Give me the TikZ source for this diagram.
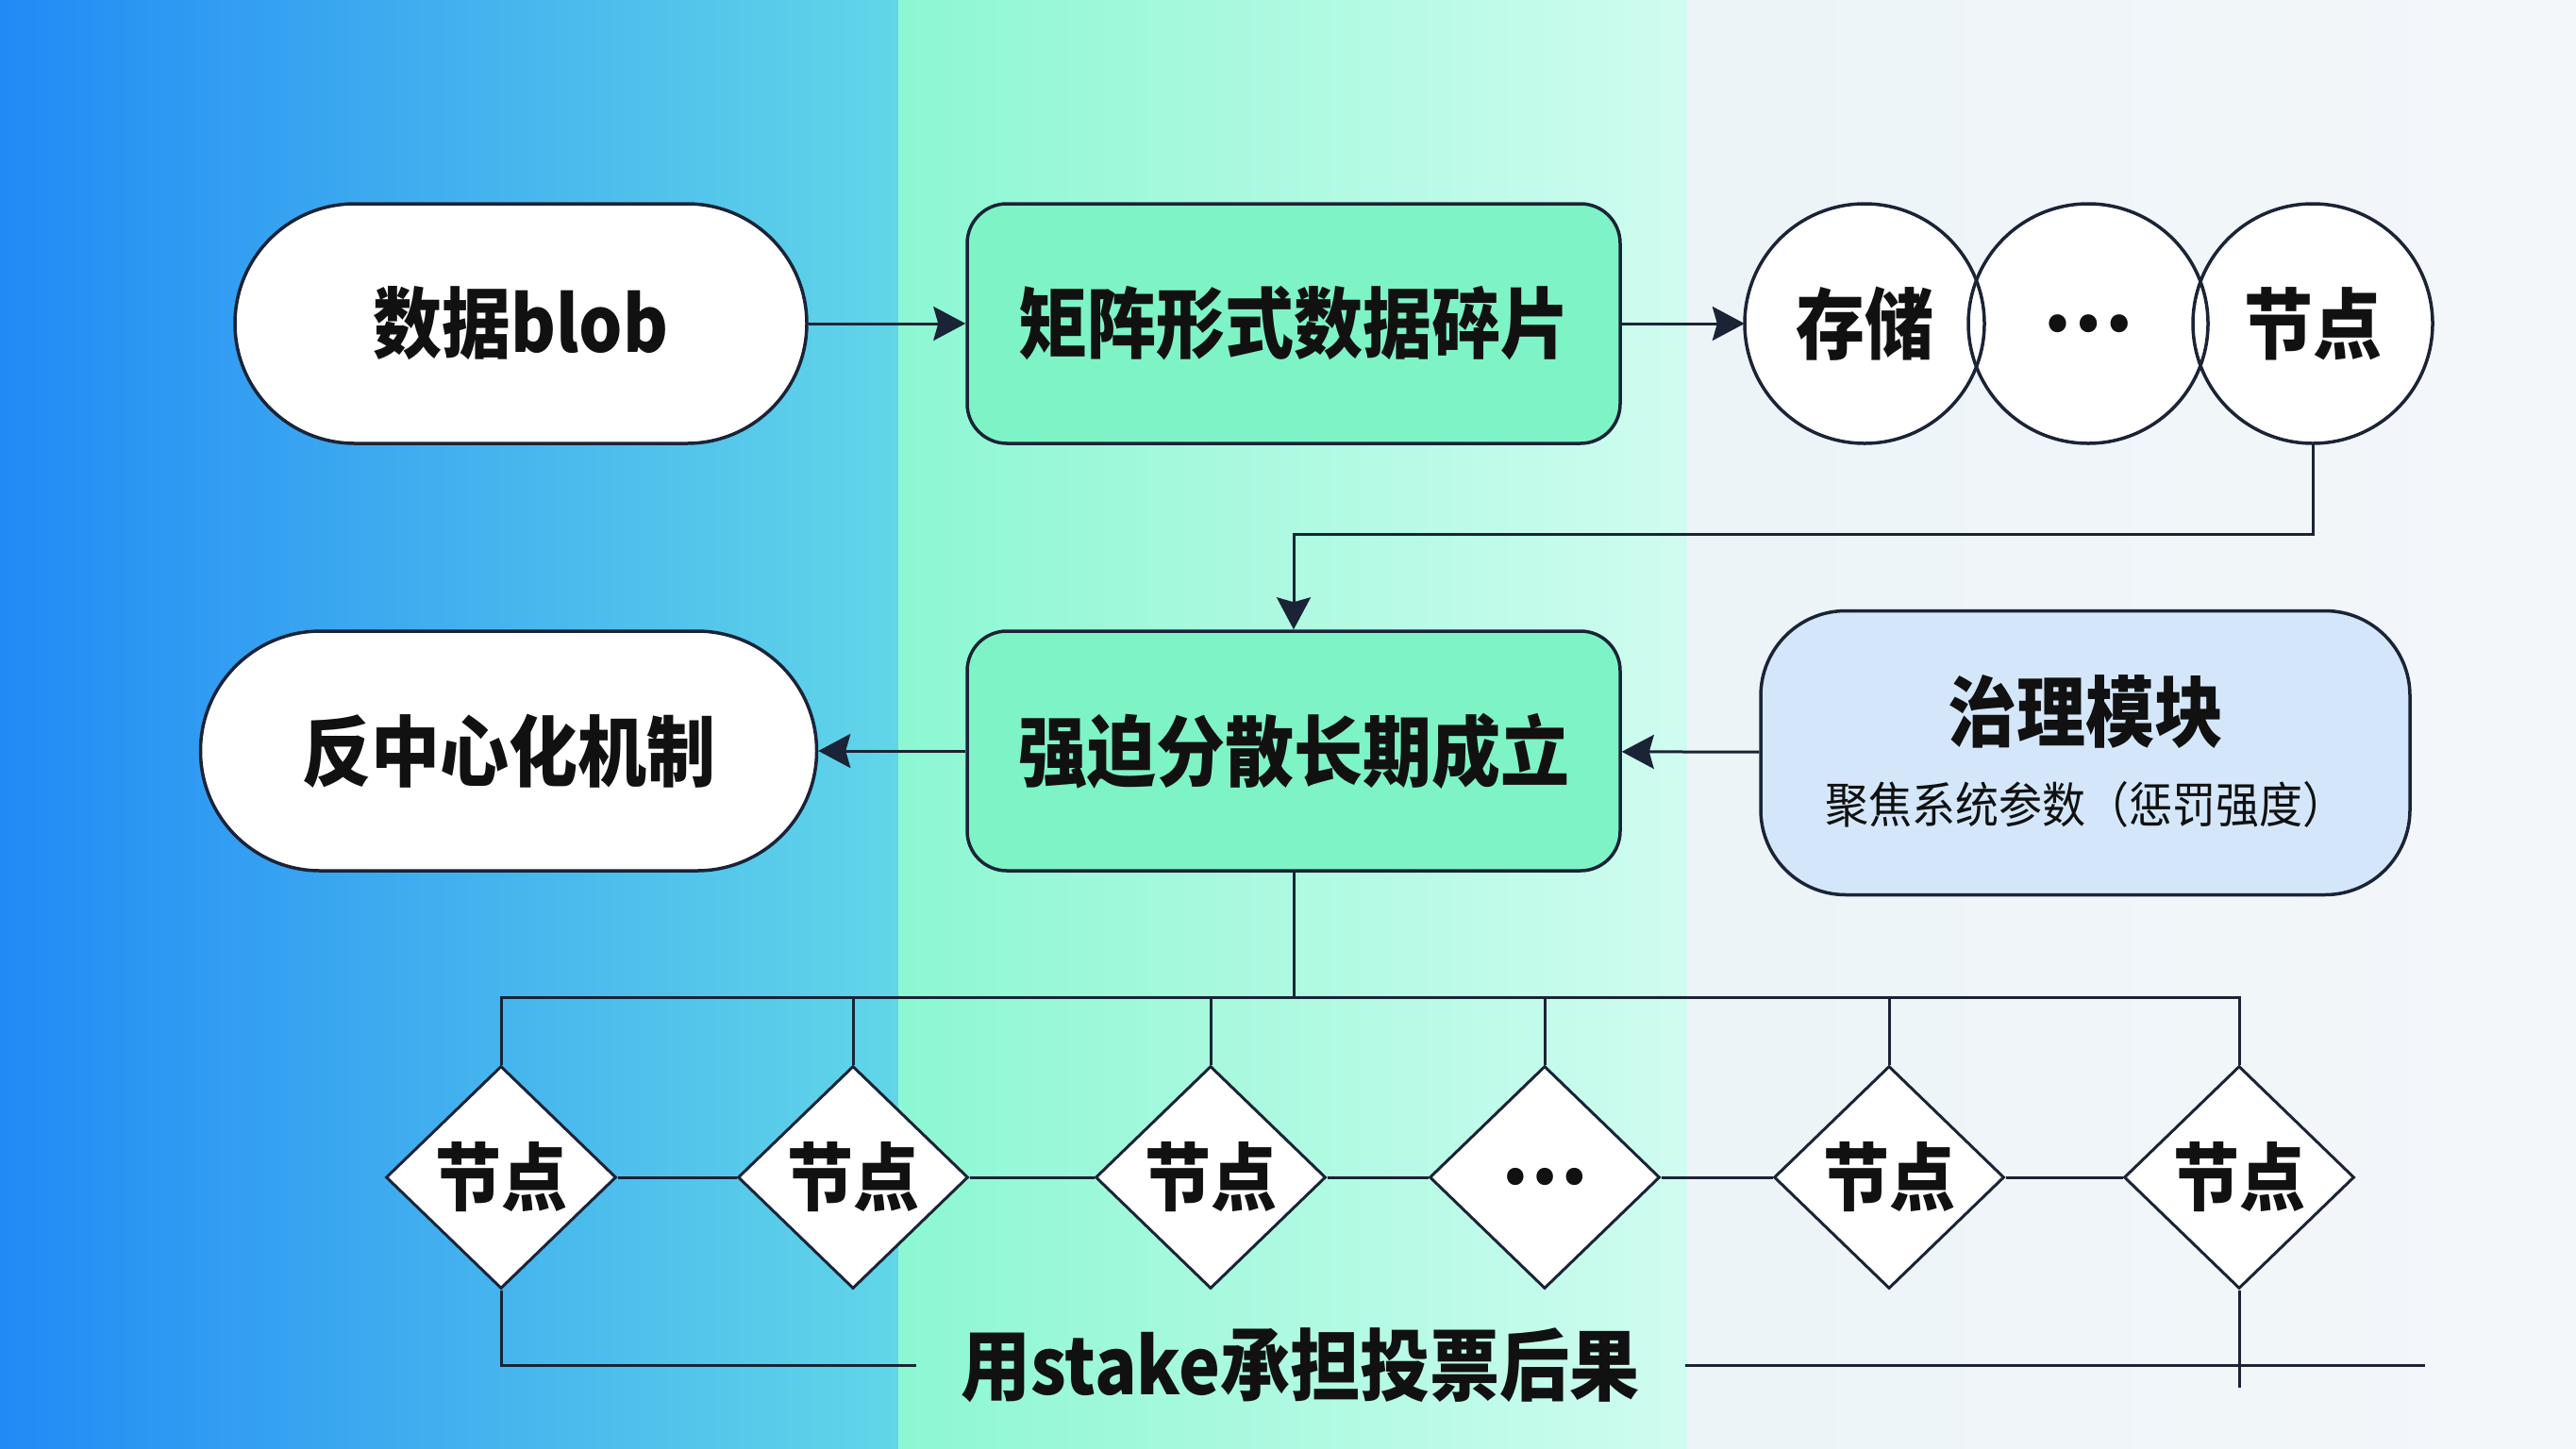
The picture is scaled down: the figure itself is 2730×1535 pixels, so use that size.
\documentclass[tikz,border=0pt]{standalone}
\usepackage{fontspec}
\usepackage{graphicx}
\newfontfamily\cjk{Noto Sans CJK SC}
\usetikzlibrary{shapes.geometric,arrows.meta,calc}
\newcommand{\tallt}[1]{\scalebox{1}[1.12]{#1}}
\newcommand{\dotst}{\scalebox{1.18}[1.18]{…}}
\definecolor{ink}{HTML}{1B2336}
\definecolor{txt}{HTML}{111111}
\definecolor{bandAl}{RGB}{34,138,245}
\definecolor{bandAr}{RGB}{98,214,232}
\definecolor{bandBl}{RGB}{140,247,210}
\definecolor{bandBr}{RGB}{208,252,240}
\definecolor{bandCl}{RGB}{236,244,248}
\definecolor{bandCr}{RGB}{244,247,250}
\definecolor{mint}{RGB}{126,243,197}
\definecolor{govblue}{RGB}{212,231,250}
\tikzset{
  shapeline/.style={draw=ink, line width=3.5pt},
  conn/.style={draw=ink, line width=3pt},
  arr/.style={conn, -{Stealth[length=34pt,width=36pt,inset=5pt]}},
  bigtxt/.style={text=txt, font=\cjk\bfseries\fontsize{73}{80}\selectfont},
  stadium/.style={shapeline, fill=white, rectangle, rounded corners=127pt, minimum height=254pt, inner sep=0pt, bigtxt},
  greenbox/.style={shapeline, fill=mint, rectangle, rounded corners=42pt, minimum width=692pt, minimum height=254pt, inner sep=0pt, bigtxt},
  govbox/.style={shapeline, fill=govblue, rectangle, rounded corners=90pt, minimum width=688pt, minimum height=301pt, inner sep=0pt},
  circnode/.style={circle, fill=white, minimum size=254pt, inner sep=0pt, bigtxt},
  diam/.style={shapeline, line width=3pt, fill=white, diamond, minimum width=244pt, minimum height=236pt, inner sep=0pt, text=txt, font=\cjk\bfseries\fontsize{70}{76}\selectfont},
}
\begin{document}
\begin{tikzpicture}[x=1pt,y=-1pt]
% background bands
\useasboundingbox (0,0) rectangle (2730,1535);
\shade[left color=bandAl, right color=bandAr] (0,0) rectangle (952,1535);
\shade[left color=bandBl, right color=bandBr] (952,0) rectangle (1788,1535);
\shade[left color=bandCl, right color=bandCr] (1788,0) rectangle (2730,1535);

% top row
\node[stadium, minimum width=606pt] (blob) at (552,343) {\tallt{数据blob}};
\node[greenbox] (shard) at (1371,343) {\tallt{矩阵形式数据碎片}};
\node[circnode] (c1) at (1976,343) {\tallt{存储}};
\node[circnode] (c2) at (2213,343) {\dotst};
\node[circnode] (c3) at (2451,343) {\tallt{节点}};
\draw[shapeline] (c1.center) circle[radius=127pt];
\draw[shapeline] (c2.center) circle[radius=127pt];
\draw[shapeline] (c3.center) circle[radius=127pt];

% middle row
\node[stadium, minimum width=653pt] (decent) at (539,796) {\tallt{反中心化机制}};
\node[greenbox] (force) at (1371,796) {\tallt{强迫分散长期成立}};
\node[govbox] (gov) at (2210,798) {};
\node[text=txt, font=\cjk\bfseries\fontsize{73}{80}\selectfont] (govt) at (2210,754) {\tallt{治理模块}};
\node[text=txt, font=\cjk\fontsize{46}{52}\selectfont] (govs) at (2210,853) {\tallt{聚焦系统参数（惩罚强度）}};

% arrows
\draw[arr] (blob) -- (shard);
\draw[arr] (shard) -- (c1);
\coordinate (turn) at (1371,566);
\draw[arr] (c3.south) |- (turn) -- (force.north);
\draw[arr] (force) -- (decent);
\draw[arr] (gov) -- (force);

% diamonds
\node[diam] (d1) at (531,1248) {\tallt{节点}};
\node[diam] (d2) at (904,1248) {\tallt{节点}};
\node[diam] (d3) at (1283,1248) {\tallt{节点}};
\node[diam] (d4) at (1637,1248) {\raisebox{-6pt}{\dotst}};
\node[diam] (d5) at (2002,1248) {\tallt{节点}};
\node[diam] (d6) at (2373,1248) {\tallt{节点}};

\coordinate (busy) at (0,1057);
\draw[conn] (force.south) -- (force.south |- busy);
\draw[conn] (d1.north) -- (d1.north |- busy) -- (d6.north |- busy) -- (d6.north);
\foreach \d in {d2,d3,d4,d5} \draw[conn] (\d.north) -- (\d.north |- busy);
\draw[conn] (d1.east) -- (d2.west);
\draw[conn] (d2.east) -- (d3.west);
\draw[conn] (d3.east) -- (d4.west);
\draw[conn] (d4.east) -- (d5.west);
\draw[conn] (d5.east) -- (d6.west);

% bottom
\node[text=txt, font=\cjk\bfseries\fontsize{74}{80}\selectfont, inner xsep=48pt, inner ysep=0pt] (lbl) at (1378,1447) {\tallt{用stake承担投票后果}};
\coordinate (rend) at (2570,1447);
\coordinate (dend) at (2373,1471);
\draw[conn] (d1.south) |- (lbl.west);
\draw[conn] (lbl.east) -- (rend);
\draw[conn] (d6.south) -- (dend);
\end{tikzpicture}
\end{document}
